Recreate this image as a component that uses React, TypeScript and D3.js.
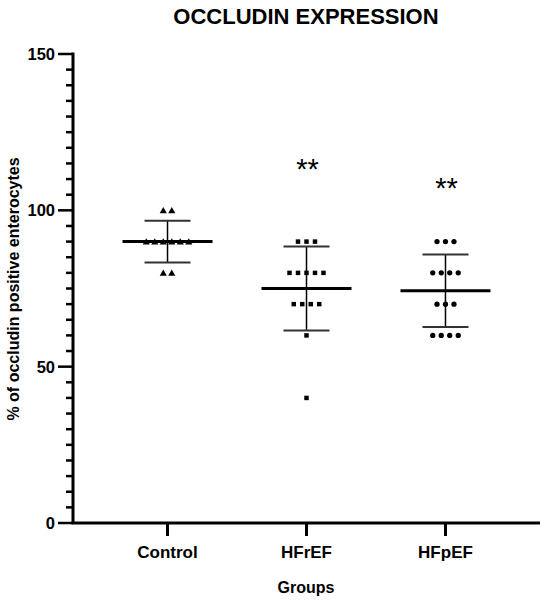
import React from 'react';
import * as d3 from 'd3';

const groups = ['Control', 'HFrEF', 'HFpEF'];
const controlValues = [100, 100, 90, 90, 90, 90, 90, 90, 80, 80];
const hfrefValues = [90, 90, 90, 80, 80, 80, 80, 80, 70, 70, 70, 70, 60, 40];
const hfpefValues = [90, 90, 90, 80, 80, 80, 80, 70, 70, 70, 60, 60, 60, 60];
const seriesValues = [controlValues, hfrefValues, hfpefValues];
const markerTypes = [d3.symbolTriangle, d3.symbolSquare, d3.symbolCircle];
const significance = ['', '**', '**'];
const significanceAt = [0, 115, 109];
const majorTicks = [0, 50, 100, 150];

const width = 550;
const height = 604;
const font = '"Liberation Sans", Arial, Helvetica, sans-serif';

export default function App() {
  const y = d3.scaleLinear().domain([0, 150]).range([523, 54]);
  const x = d3.scalePoint<string>().domain(groups).range([73, 540]).padding(0.68);
  const minorTicks = y.ticks(30);
  const spacing = 8.5;

  return (
    <svg
      width={width}
      height={height}
      style={{ position: 'absolute', left: 0, top: 0, background: '#fff' }}
    >
      {/* title */}
      <text x={306} y={24} textAnchor="middle" fontFamily={font} fontWeight="bold" fontSize={22}>
        OCCLUDIN EXPRESSION
      </text>

      {/* y axis */}
      <line x1={73} x2={73} y1={y(150) - 1.5} y2={y(0)} stroke="#000" strokeWidth={3} />
      {minorTicks.map(t => (
        <line
          key={'t' + t}
          x1={majorTicks.includes(t) ? 58 : 66}
          x2={73}
          y1={y(t)}
          y2={y(t)}
          stroke="#000"
          strokeWidth={2.5}
        />
      ))}
      {majorTicks.map(t => (
        <text
          key={'l' + t}
          x={55}
          y={y(t) + 6}
          textAnchor="end"
          fontFamily={font}
          fontWeight="bold"
          fontSize={16.5}
        >
          {t}
        </text>
      ))}
      <text
        transform="translate(19,289) rotate(-90)"
        textAnchor="middle"
        fontFamily={font}
        fontWeight="bold"
        fontSize={16}
      >
        % of occludin positive enterocytes
      </text>

      {/* x axis */}
      <line x1={71.5} x2={540} y1={y(0)} y2={y(0)} stroke="#000" strokeWidth={3} />
      {groups.map(g => (
        <g key={g}>
          <line x1={x(g)} x2={x(g)} y1={y(0)} y2={y(0) + 13} stroke="#000" strokeWidth={3} />
          <text x={x(g)} y={558} textAnchor="middle" fontFamily={font} fontWeight="bold" fontSize={17}>
            {g}
          </text>
        </g>
      ))}
      <text x={306} y={593} textAnchor="middle" fontFamily={font} fontWeight="bold" fontSize={16}>
        Groups
      </text>

      {/* groups: points, mean and SD */}
      {groups.map((g, i) => {
        const values = seriesValues[i];
        const cx = x(g) as number;
        const mean = d3.mean(values) as number;
        const sd = d3.deviation(values) as number;
        const rows = d3.group(values, v => v);
        const symbol = d3.symbol().type(markerTypes[i]).size(i === 0 ? 22 : i === 1 ? 20 : 22);
        const points: { v: number; px: number }[] = [];
        rows.forEach((row, v) => {
          row.forEach((_, k) => {
            points.push({ v, px: cx + (k - (row.length - 1) / 2) * spacing });
          });
        });
        return (
          <g key={'s' + g}>
            <line x1={cx} x2={cx} y1={y(mean + sd)} y2={y(mean - sd)} stroke="#000" strokeWidth={1.5} />
            <line x1={cx - 23} x2={cx + 23} y1={y(mean + sd)} y2={y(mean + sd)} stroke="#333" strokeWidth={2} />
            <line x1={cx - 23} x2={cx + 23} y1={y(mean - sd)} y2={y(mean - sd)} stroke="#333" strokeWidth={2} />
            {points.map((p, k) => (
              <path
                key={k}
                d={symbol() as string}
                transform={`translate(${p.px},${y(p.v) + (i === 0 ? 0.8 : 0)})`}
                fill="#000"
              />
            ))}
            <line x1={cx - 45} x2={cx + 45} y1={y(mean)} y2={y(mean)} stroke="#000" strokeWidth={3} />
            {significance[i] && (
              <text
                x={cx + 1}
                y={y(significanceAt[i]) + 16}
                textAnchor="middle"
                fontFamily={font}
                fontSize={29}
              >
                {significance[i]}
              </text>
            )}
          </g>
        );
      })}
    </svg>
  );
}
